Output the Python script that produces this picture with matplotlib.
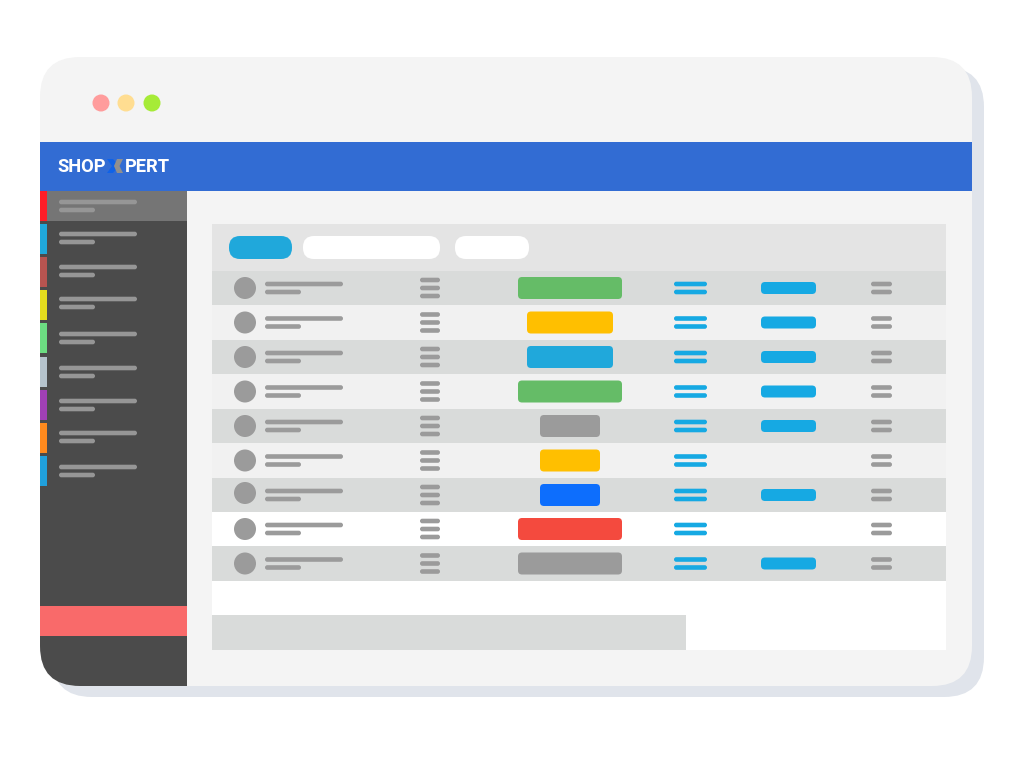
#!/usr/bin/env python3
"""Redraw the SHOP XPERT dashboard mockup."""

import matplotlib
matplotlib.use("Agg")
import matplotlib.pyplot as plt
from matplotlib.patches import FancyBboxPatch, Rectangle, Circle, Polygon

C_SHADOW = "#E0E4EB"
C_WINDOW = "#F4F4F4"
C_HEADER = "#326CD3"
C_SIDEBAR = "#4B4B4B"
C_ACTIVE = "#757575"
C_LOGOUT = "#F96A6A"
C_TOOLBAR = "#E4E4E4"
C_ROW_DARK = "#D9DBDA"
C_ROW_LIGHT = "#F1F1F1"
C_LINE = "#9B9B9B"
C_SIDE_LINE = "#969696"
C_CYAN = "#16A9E3"
C_TOOL_BLUE = "#20A8DB"

DOTS = ["#FF9C9C", "#FFDD91", "#A6EB37"]
DOT_X = [101, 126, 152]

MENU_COLORS = ["#FF1E27", "#20A8DB", "#B85450", "#E4DC1E", "#6CDD82",
               "#B5C3CC", "#A040B5", "#FF8A1E", "#20A0DC"]
MENU_TOP = [191, 224, 257, 290, 323, 357, 390, 423, 456]
MENU_LINE_Y = [202, 234, 267, 299, 334, 368, 401, 433, 467]

ROW_EDGES = [271, 305, 340, 374, 409, 443, 478, 512, 546, 581]
ROW_FILLS = [C_ROW_DARK, C_ROW_LIGHT, C_ROW_DARK, C_ROW_LIGHT, C_ROW_DARK,
             C_ROW_LIGHT, C_ROW_DARK, "#FFFFFF", C_ROW_DARK]
STATUS_COLORS = ["#65BC67", "#FFBF00", "#20A8DB", "#65BC67", "#9B9B9B",
                 "#FFBF00", "#0D6EFD", "#F44A3E", "#9B9B9B"]
STATUS_WIDTHS = [104, 86, 86, 104, 60, 60, 60, 104, 104]
HAS_ACTION = [True, True, True, True, True, False, True, False, True]
AVATAR_NUDGE = [0, 0, 0, 0, 0, 0, -2, 0, 0]

fig = plt.figure(figsize=(10.24, 7.73), dpi=100, facecolor="white")
ax = fig.add_axes([0, 0, 1, 1])
ax.set_xlim(0, 1024)
ax.set_ylim(773, 0)
ax.axis("off")


def pill(x0, x1, y0, y1, color, radius, zorder=4):
    box = FancyBboxPatch((x0 + radius, y0 + radius), x1 - x0 - 2 * radius, y1 - y0 - 2 * radius,
                         boxstyle=f"round,pad={radius},rounding_size={radius}",
                         facecolor=color, edgecolor="none", zorder=zorder)
    ax.add_patch(box)
    return box


def bar_line(x0, x1, y, color, thick=4.6):
    pill(x0, x1, y - thick / 2, y + thick / 2, color, thick / 2 - 0.01, zorder=5)


def rect(x0, x1, y0, y1, color, clip=None, zorder=2):
    r = Rectangle((x0, y0), x1 - x0, y1 - y0, facecolor=color, edgecolor="none", zorder=zorder)
    ax.add_patch(r)
    if clip is not None:
        r.set_clip_path(clip)
    return r


def logo_text(x, s):
    ax.text(x, 167, s, color="white", fontsize=13.2, family="Roboto", weight="bold",
            ha="left", va="center", zorder=5)


# window and its shadow
pill(52, 984, 67, 697, C_SHADOW, 40, zorder=0)
window = pill(40, 972, 57, 686, C_WINDOW, 40, zorder=1)

for x, c in zip(DOT_X, DOTS):
    ax.add_patch(Circle((x, 103), 8.5, facecolor=c, edgecolor="none", zorder=3))

# header
rect(40, 972, 142, 191, C_HEADER)
logo_text(57, "SHOP")
logo_text(125, "PERT")
ax.add_patch(Polygon([(107, 159), (113, 159), (119, 166), (113, 173), (107, 173), (112, 166)],
                     facecolor="#0F62E8", edgecolor="none", zorder=5))
ax.add_patch(Polygon([(117, 159), (123, 159), (119.5, 166), (123, 173), (117, 173), (114, 166)],
                     facecolor="#8F8F8F", edgecolor="none", zorder=6))

# sidebar
rect(40, 187, 191, 686, C_SIDEBAR, clip=window)
rect(40, 187, 191, 221, C_ACTIVE, zorder=3)
rect(40, 187, 606, 636, C_LOGOUT, zorder=3)
for top, c, ly in zip(MENU_TOP, MENU_COLORS, MENU_LINE_Y):
    rect(40, 47, top, top + 30, c, zorder=4)
    bar_line(59, 137, ly, C_SIDE_LINE)
    bar_line(59, 95, ly + 8, C_SIDE_LINE)

# table panel
rect(212, 946, 224, 650, "#FFFFFF")
rect(212, 946, 224, 271, C_TOOLBAR, zorder=3)
pill(229, 292, 236, 259, C_TOOL_BLUE, 11)
pill(303, 440, 236, 259, "#FFFFFF", 11)
pill(455, 529, 236, 259, "#FFFFFF", 11)
rect(212, 686, 615, 650, C_ROW_DARK, zorder=3)

for i, fill in enumerate(ROW_FILLS):
    y0, y1 = ROW_EDGES[i], ROW_EDGES[i + 1]
    cy = (y0 + y1) / 2
    rect(212, 946, y0, y1, fill, zorder=3)
    ax.add_patch(Circle((245, cy + AVATAR_NUDGE[i]), 11, facecolor=C_LINE, edgecolor="none", zorder=5))
    bar_line(265, 343, cy - 4, C_LINE)
    bar_line(265, 301, cy + 4, C_LINE)
    for dy in (-8, 0, 8):
        bar_line(420, 440, cy + dy, C_LINE)
    w = STATUS_WIDTHS[i]
    pill(570 - w / 2, 570 + w / 2, cy - 11, cy + 11, STATUS_COLORS[i], 4)
    bar_line(674, 707, cy - 4, C_CYAN)
    bar_line(674, 707, cy + 4, C_CYAN)
    if HAS_ACTION[i]:
        pill(761, 816, cy - 6, cy + 6, C_CYAN, 4)
    bar_line(871, 892, cy - 4, C_LINE)
    bar_line(871, 892, cy + 4, C_LINE)

fig.savefig("out.png", dpi=100)
